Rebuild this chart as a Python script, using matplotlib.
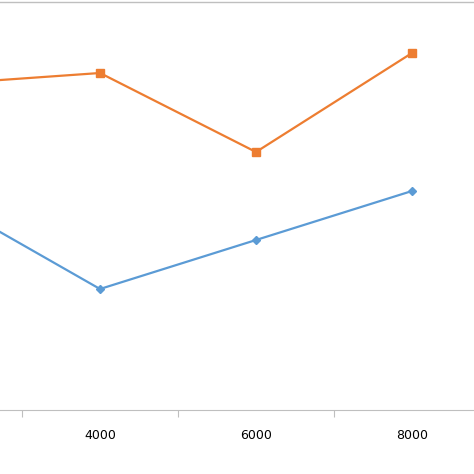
import matplotlib.pyplot as plt

categories = ["2000", "4000", "6000", "8000"]
series_orange = [326, 337, 258, 357]
series_blue = [210, 121, 170, 219]

W = H = 474
fig = plt.figure(figsize=(W / 100, H / 100), dpi=100)
# axes extends past the left edge (the reference is a crop)
left_px, right_px, bottom_px, top_px = -134, 490, 410, 0
ax = fig.add_axes([left_px / W, (H - bottom_px) / H,
                   (right_px - left_px) / W, (bottom_px - top_px) / H])

x = range(len(categories))
ax.plot(x, series_orange, color="#ED7D31", marker="s", markersize=6, linewidth=1.6)
ax.plot(x, series_blue, color="#5B9BD5", marker="D", markersize=4, linewidth=1.6)

ax.set_xlim(-0.5, 3.5)
ax.set_ylim(0, 410)
ax.set_xticks([i + 0.5 for i in range(-1, 4)], minor=False)
ax.set_xticklabels([])
ax.set_xticks(list(x)[1:], minor=True)
ax.set_xticklabels(categories[1:], minor=True, fontsize=9)
ax.tick_params(axis="x", which="major", length=5, color="#BFBFBF", direction="out")
ax.tick_params(axis="x", which="minor", length=0, pad=14)
ax.set_yticks([])
for s in ["top", "right", "left"]:
    ax.spines[s].set_visible(False)
ax.spines["bottom"].set_color("#BFBFBF")

fig.add_artist(plt.Line2D([0, 1], [1 - 2 / H, 1 - 2 / H], color="#BFBFBF", linewidth=1))

fig.savefig("out.png", dpi=100)
